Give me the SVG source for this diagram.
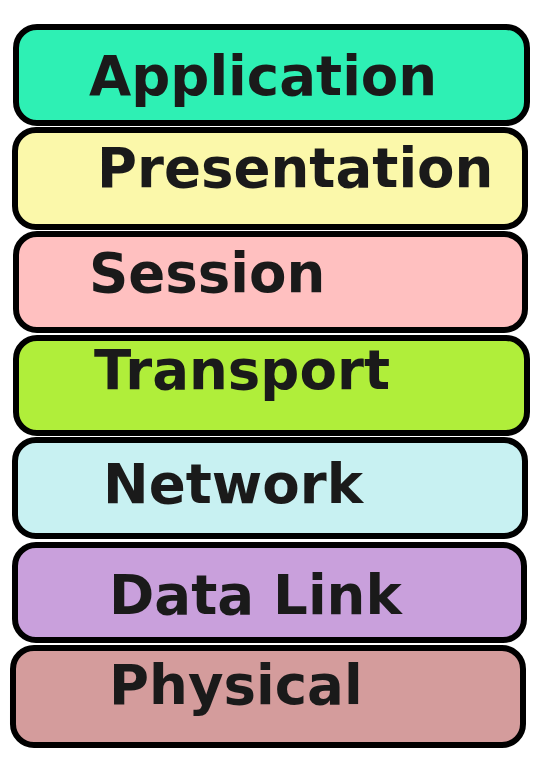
<svg xmlns="http://www.w3.org/2000/svg" width="549" height="774" viewBox="0 0 549 774">
<style>
.box{stroke:#000;stroke-width:6}
.lbl{font-family:"DejaVu Sans",sans-serif;font-weight:bold;font-size:54.6px;fill:#1a1a1a}
</style>
<rect width="549" height="774" fill="#fff"/>
<g id="application"><rect class="box" x="16" y="27" width="511" height="96" rx="21" fill="#2ef0b4"/><text class="lbl" x="89" y="95">Application</text></g>
<g id="presentation"><rect class="box" x="15" y="130" width="510" height="97" rx="21" fill="#fbf8aa"/><text class="lbl" x="97" y="187">Presentation</text></g>
<g id="session"><rect class="box" x="16" y="234" width="509" height="96" rx="21" fill="#ffc0c0"/><text class="lbl" x="89" y="292">Session</text></g>
<g id="transport"><rect class="box" x="16" y="338" width="511" height="95" rx="21" fill="#b0ee3a"/><text class="lbl" x="94" y="389">Transport</text></g>
<g id="network"><rect class="box" x="15" y="440" width="510" height="96" rx="21" fill="#c8f1f2"/><text class="lbl" x="103" y="503">Network</text></g>
<g id="datalink"><rect class="box" x="15" y="545" width="509" height="95" rx="21" fill="#c9a0dc"/><text class="lbl" x="109" y="614">Data Link</text></g>
<g id="physical"><rect class="box" x="13" y="648" width="510" height="97" rx="21" fill="#d49c9c"/><text class="lbl" x="109" y="704">Physical</text></g>
<g id="connectors"/>
</svg>
